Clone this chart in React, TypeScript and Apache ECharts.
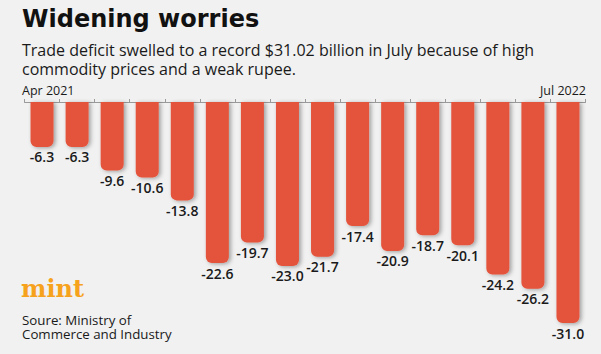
import React, { useEffect, useRef } from "react";
import * as echarts from "echarts";

const months = [
  "Apr 2021", "May 2021", "Jun 2021", "Jul 2021", "Aug 2021", "Sep 2021", "Oct 2021", "Nov 2021",
  "Dec 2021", "Jan 2022", "Feb 2022", "Mar 2022", "Apr 2022", "May 2022", "Jun 2022", "Jul 2022",
];
const deficit = [-6.3, -6.3, -9.6, -10.6, -13.8, -22.6, -19.7, -23.0, -21.7, -17.4, -20.9, -18.7, -20.1, -24.2, -26.2, -31.0];

const title = "Widening worries";
const subtitleLines = [
  "Trade deficit swelled to a record $31.02 billion in July because of high",
  "commodity prices and a weak rupee.",
];
const sourceLines = ["Soure: Ministry of", "Commerce and Industry"];
const brand = "mint";

export default function App() {
  const ref = useRef<HTMLDivElement>(null);
  useEffect(() => {
    if (!ref.current) return;
    const chart = echarts.init(ref.current, undefined, { renderer: "svg" });
    chart.setOption({
      animation: false,
      backgroundColor: "#f1f1f1",
      grid: { left: 24.5, right: 15.5, top: 102, height: 221, containLabel: false },
      xAxis: {
        type: "category",
        data: months,
        position: "top",
        axisLine: { show: true, lineStyle: { color: "#9a9a9a", width: 1 } },
        axisTick: { show: true, interval: 0, length: 3, lineStyle: { color: "#9a9a9a" } },
        axisLabel: { show: false },
      },
      yAxis: {
        type: "value",
        min: -31,
        max: 0,
        show: false,
        splitLine: { show: false },
      },
      series: [
        {
          type: "bar",
          data: deficit,
          barWidth: 23,
          itemStyle: {
            color: "#e4533b",
            borderRadius: [0, 0, 6, 6],
            shadowColor: "rgba(0,0,0,0.35)",
            shadowBlur: 4,
            shadowOffsetX: 2,
            shadowOffsetY: 1,
          },
          label: {
            show: true,
            position: "bottom",
            distance: 3,
            formatter: (p: any) => p.value.toFixed(1),
            fontFamily: "Open Sans",
            fontWeight: 600,
            fontSize: 14,
            color: "#1a1a1a",
          },
        },
      ],
      graphic: [
        {
          type: "text",
          left: 22,
          top: 7,
          style: { text: title, font: "bold 24px 'DejaVu Sans'", fill: "#111" },
        },
        ...subtitleLines.map((t, i) => ({
          type: "text",
          left: 22,
          top: 41 + i * 18.5,
          style: { text: t, font: "16px 'Open Sans'", lineHeight: 18, fill: "#1a1a1a" },
        })),
        {
          type: "text",
          left: 22,
          top: 84,
          style: { text: months[0], font: "12.5px 'Open Sans'", fill: "#1a1a1a" },
        },
        {
          type: "text",
          right: 15,
          top: 84,
          style: { text: months[months.length - 1], font: "12.5px 'Open Sans'", fill: "#1a1a1a", align: "right" },
        },
        {
          type: "text",
          left: 21,
          top: 276,
          style: { text: brand, font: "bold 24px 'DejaVu Serif'", fill: "#f6a21d" },
        },
        ...sourceLines.map((t, i) => ({
          type: "text",
          left: 22,
          top: 313 + i * 14.3,
          style: { text: t, font: "13.3px 'Open Sans'", lineHeight: 14, fill: "#1a1a1a" },
        })),
      ],
    });
    return () => chart.dispose();
  }, []);
  return (
    <div
      ref={ref}
      style={{ position: "fixed", left: 0, top: 0, width: 601, height: 354 }}
    />
  );
}
